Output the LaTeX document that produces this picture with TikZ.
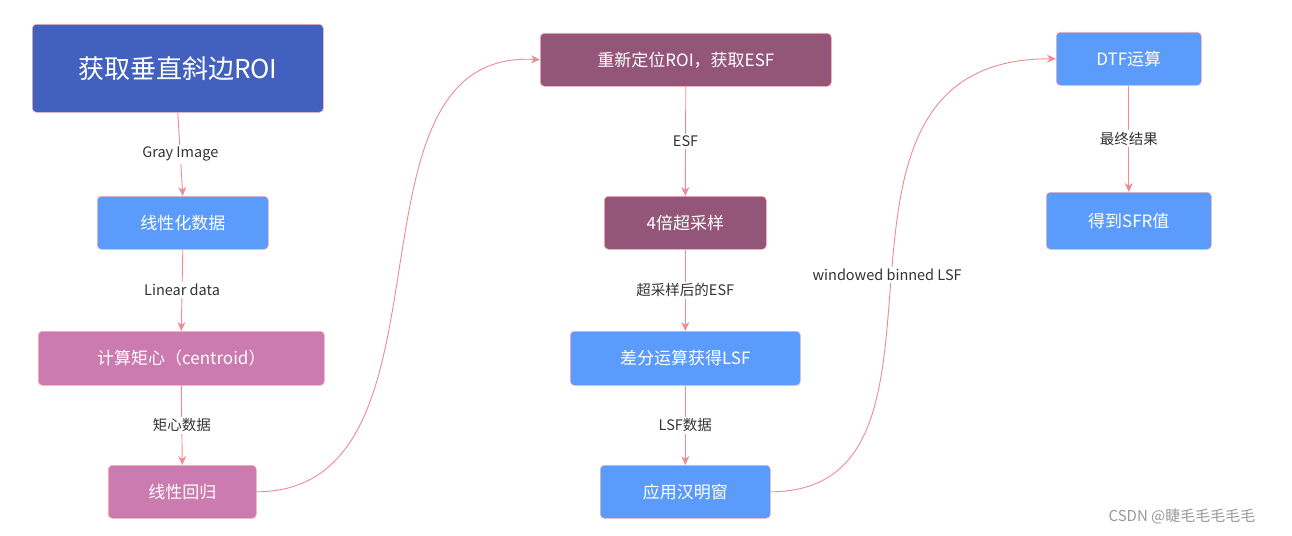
\documentclass[tikz,border=0pt]{standalone}
\usepackage{fontspec}
\setmainfont{Noto Sans CJK SC}
\usetikzlibrary{arrows.meta}
\definecolor{deepblue}{HTML}{4260BE}
\definecolor{lblue}{HTML}{5B9BFB}
\definecolor{pinkb}{HTML}{CB7BAF}
\definecolor{purpb}{HTML}{935679}
\definecolor{edge}{HTML}{F08A94}
\definecolor{lbl}{HTML}{333333}
\tikzset{
 box/.style={draw=edge!70,line width=0.6pt,rounded corners=4pt,text=white,font=\fontsize{17}{17}\selectfont,inner sep=0pt,anchor=north west},
 conn/.style={draw=edge,line width=0.9pt,-{Stealth[length=9pt,width=8pt]}},
 lab/.style={fill=white,text=lbl,font=\fontsize{14.5}{15}\selectfont,inner sep=2pt}
}
\begin{document}
\begin{tikzpicture}[x=1pt,y=-1pt]
\useasboundingbox (0,0) rectangle (1292,535);
\node[box,fill=deepblue,minimum width=291,minimum height=88,font=\fontsize{26}{26}\selectfont] (A) at (32,24) {获取垂直斜边ROI};
\node[box,fill=lblue,minimum width=171,minimum height=53] (B) at (97,196) {线性化数据};
\node[box,fill=pinkb,minimum width=286,minimum height=54] (C) at (38,331) {计算矩心（centroid）};
\node[box,fill=pinkb,minimum width=148,minimum height=53] (D) at (108,465) {线性回归};
\node[box,fill=purpb,minimum width=291,minimum height=53] (E) at (540,33) {重新定位ROI，获取ESF};
\node[box,fill=purpb,minimum width=162,minimum height=53] (F) at (604,196) {4倍超采样};
\node[box,fill=lblue,minimum width=230,minimum height=54] (G) at (570,331) {差分运算获得LSF};
\node[box,fill=lblue,minimum width=170,minimum height=53] (H) at (600,465) {应用汉明窗};
\node[box,fill=lblue,minimum width=145,minimum height=53] (I) at (1056,32) {DTF运算};
\node[box,fill=lblue,minimum width=165,minimum height=57] (J) at (1046,192) {得到SFR值};

\draw[conn] (A.south) -- node[lab]{Gray Image} (B.north);
\draw[conn] (B.south) -- node[lab]{Linear data} (C.north);
\draw[conn] (C.south) -- node[lab]{矩心数据} (D.north);
\draw[conn] (E.south) -- node[lab]{ESF} (F.north);
\draw[conn] (F.south) -- node[lab]{超采样后的ESF} (G.north);
\draw[conn] (G.south) -- node[lab]{LSF数据} (H.north);
\draw[conn] (I.south) -- node[lab]{最终结果} (J.north);
\draw[conn] (D.east) .. controls (470,491) and (330,48) .. (E.west);
\draw[conn] (H.east) .. controls (990,491) and (780,58) .. node[lab,pos=0.5,xshift=-5]{windowed binned LSF} (I.west);
\node[text=gray!80,font=\fontsize{15}{15}\selectfont] (wm) at (1182,516) {CSDN @睫毛毛毛毛毛};
\end{tikzpicture}
\end{document}
